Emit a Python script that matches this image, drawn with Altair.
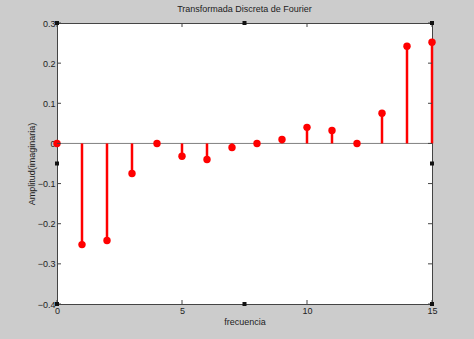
import altair as alt
import pandas as pd

freq = list(range(16))
amp = [0.0, -0.252, -0.242, -0.075, 0.0, -0.032, -0.040, -0.010,
       0.0, 0.010, 0.040, 0.032, 0.0, 0.075, 0.242, 0.252]
x_ticks = [0, 5, 10, 15]
y_ticks = [-0.4, -0.3, -0.2, -0.1, 0.0, 0.1, 0.2, 0.3]
x_dom = [0, 15]
y_dom = [-0.4, 0.3]

df = pd.DataFrame({"f": freq, "a": amp})
xs = alt.Scale(domain=x_dom, nice=False, zero=False)
ys = alt.Scale(domain=y_dom, nice=False, zero=False)

FONT = "Liberation Sans"
W, H = 375, 281

xax = alt.Axis(values=x_ticks, ticks=False, domain=False, grid=False,
               labelFontSize=9, labelFont=FONT, labelColor="#222",
               labelPadding=2, title="frecuencia", titleFont=FONT,
               titleFontSize=9, titleFontWeight="normal", titleColor="#222",
               titlePadding=2, labelFlush=False)
yax = alt.Axis(values=y_ticks, ticks=False, domain=False, grid=False,
               labelFontSize=9, labelFont=FONT, labelColor="#222",
               labelPadding=2, title="Amplitud(imaginaria)", titleFont=FONT,
               titleFontSize=9, titleFontWeight="normal", titleColor="#222",
               titlePadding=1, labelFlush=False,
               labelExpr="datum.value == 0 ? '0' : format(datum.value, '.1f')")

base = alt.Chart(df)

zero = alt.Chart(pd.DataFrame({"y": [0.0]})).mark_rule(
    color="#808080", strokeWidth=1).encode(
    y=alt.Y("y:Q", scale=ys, axis=yax))

stems = base.mark_rule(color="#ff0000", strokeWidth=2.5).encode(
    x=alt.X("f:Q", scale=xs, axis=xax),
    y=alt.Y("a:Q", scale=ys),
    y2=alt.datum(0))

dots = base.mark_circle(color="#ff0000", opacity=1, size=55).encode(
    x=alt.X("f:Q", scale=xs),
    y=alt.Y("a:Q", scale=ys))

# inward ticks on all four sides
xt = pd.DataFrame({"t": x_ticks})
yt = pd.DataFrame({"t": y_ticks})
tick_style = dict(color="#444", strokeWidth=1)
xb = alt.Chart(xt).mark_rule(**tick_style).encode(
    x=alt.X("t:Q", scale=xs), y=alt.value(H), y2=alt.value(H - 4))
xtop = alt.Chart(xt).mark_rule(**tick_style).encode(
    x=alt.X("t:Q", scale=xs), y=alt.value(0), y2=alt.value(4))
yl = alt.Chart(yt).mark_rule(**tick_style).encode(
    y=alt.Y("t:Q", scale=ys), x=alt.value(0), x2=alt.value(4))
yr = alt.Chart(yt).mark_rule(**tick_style).encode(
    y=alt.Y("t:Q", scale=ys), x=alt.value(W), x2=alt.value(W - 4))

# selection handles (corners and midpoints of the axes box)
xm = (x_dom[0] + x_dom[1]) / 2
ym = (y_dom[0] + y_dom[1]) / 2
hx, hy = [], []
for xv in [x_dom[0], xm, x_dom[1]]:
    for yv in [y_dom[1], ym, y_dom[0]]:
        if not (xv == xm and yv == ym):
            hx.append(xv)
            hy.append(yv)
handles = alt.Chart(pd.DataFrame({"x": hx, "y": hy})).mark_square(
    color="#111", size=16, opacity=1, filled=True).encode(
    x=alt.X("x:Q", scale=xs), y=alt.Y("y:Q", scale=ys))

chart = alt.layer(zero, stems, dots, xb, xtop, yl, yr, handles).properties(
    width=W, height=H,
    title=alt.TitleParams("Transformada Discreta de Fourier", font=FONT,
                          fontSize=9, fontWeight="normal", color="#222",
                          offset=5),
    background="#cccccc",
    padding={"left": 57, "top": 23, "right": 42, "bottom": 35},
    autosize=alt.AutoSizeParams(type="none"),
).configure_view(
    fill="white", stroke="#444", strokeWidth=1
)

chart.save("out.html", embed_options={"renderer": "svg", "actions": False})
